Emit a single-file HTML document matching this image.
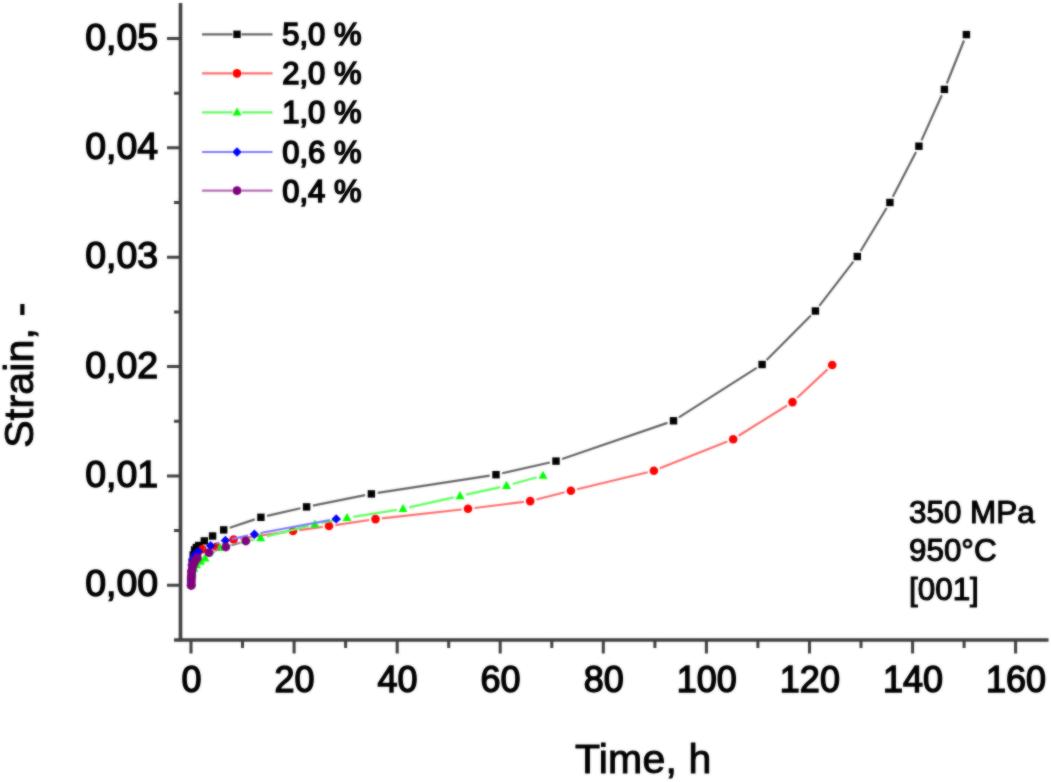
<!DOCTYPE html>
<html><head><meta charset="utf-8"><title>Creep curves</title>
<style>
html,body{margin:0;padding:0;background:#fff}
body{width:1051px;height:782px;position:relative;overflow:hidden;font-family:"Liberation Sans",Arial,sans-serif;color:#000}
.t{position:absolute;white-space:nowrap;line-height:1;-webkit-text-stroke:1.4px #000}
.yt{font-size:37.5px;left:0;width:158.2px;text-align:right}
.xt{font-size:36px;width:120px;text-align:center;top:661.7px}
.lg{font-size:31px;left:282.2px;-webkit-text-stroke:1.6px #000}
.an{font-size:31.4px;left:909px;-webkit-text-stroke:1.1px #000}
.ax{font-size:41px;letter-spacing:0.2px;-webkit-text-stroke:1px #000}
#w{position:absolute;left:0;top:0;width:1051px;height:782px;filter:url(#bl)}
</style></head><body><svg width="0" height="0" style="position:absolute"><defs><filter id="bl" x="0" y="0" width="100%" height="100%" color-interpolation-filters="sRGB"><feGaussianBlur in="SourceGraphic" stdDeviation="0.8" result="b"/><feComposite in="SourceGraphic" in2="b" operator="arithmetic" k1="0" k2="0.45" k3="0.55" k4="0"/></filter></defs></svg><div id="w">

<svg width="1051" height="782" viewBox="0 0 1051 782" style="position:absolute;left:0;top:0">
<g stroke="#404040" stroke-width="3.6" fill="none">
<path d="M180.5 3V641.2"/>
<path d="M174 640.0H1048.5"/>
<path d="M180.5 585.2H167M180.5 475.9H167M180.5 366.5H167M180.5 257.2H167M180.5 147.8H167M180.5 38.5H167M180.5 530.5H174M180.5 421.2H174M180.5 311.9H174M180.5 202.5H174M180.5 93.2H174M191.0 640.0V653.5M294.1 640.0V653.5M397.2 640.0V653.5M500.2 640.0V653.5M603.3 640.0V653.5M706.4 640.0V653.5M809.5 640.0V653.5M912.6 640.0V653.5M1015.6 640.0V653.5M242.5 640.0V648.0M345.6 640.0V648.0M448.7 640.0V648.0M551.8 640.0V648.0M654.9 640.0V648.0M757.9 640.0V648.0M861.0 640.0V648.0M964.1 640.0V648.0" stroke-width="3.0"/>
</g>
<path d="M229.8 527.8L254.8 519.4M267.1 515.9L300.4 508.3M312.9 505.6L365.1 495.2M377.7 492.9L489.7 475.7M502.2 473.3L549.8 462.5M562.1 459.0L667.4 422.9M678.9 417.4L756.7 367.9M766.6 360.0L810.9 315.5M819.3 305.9L853.4 261.6M860.6 251.0L886.6 208.0M892.8 196.8L916.0 151.9M921.5 140.4L941.8 95.2M946.8 83.5L964.0 40.5" stroke="#646464" stroke-width="2.2" fill="none"/>
<rect x="187.6" y="580.3" width="7.4" height="7.4" fill="#000"/><rect x="187.9" y="568.3" width="7.4" height="7.4" fill="#000"/><rect x="188.5" y="558.3" width="7.4" height="7.4" fill="#000"/><rect x="189.5" y="551.3" width="7.4" height="7.4" fill="#000"/><rect x="190.9" y="546.3" width="7.4" height="7.4" fill="#000"/><rect x="192.7" y="543.8" width="7.4" height="7.4" fill="#000"/><rect x="195.0" y="541.8" width="7.4" height="7.4" fill="#000"/><rect x="200.6" y="537.2" width="7.4" height="7.4" fill="#000"/><rect x="208.9" y="532.3" width="7.4" height="7.4" fill="#000"/><rect x="220.0" y="526.2" width="7.4" height="7.4" fill="#000"/><rect x="257.2" y="513.6" width="7.4" height="7.4" fill="#000"/><rect x="302.9" y="503.2" width="7.4" height="7.4" fill="#000"/><rect x="367.7" y="490.2" width="7.4" height="7.4" fill="#000"/><rect x="492.3" y="471.0" width="7.4" height="7.4" fill="#000"/><rect x="552.3" y="457.4" width="7.4" height="7.4" fill="#000"/><rect x="669.8" y="417.1" width="7.4" height="7.4" fill="#000"/><rect x="758.4" y="360.8" width="7.4" height="7.4" fill="#000"/><rect x="811.7" y="307.3" width="7.4" height="7.4" fill="#000"/><rect x="853.6" y="252.8" width="7.4" height="7.4" fill="#000"/><rect x="886.2" y="198.8" width="7.4" height="7.4" fill="#000"/><rect x="915.2" y="142.5" width="7.4" height="7.4" fill="#000"/><rect x="940.7" y="85.7" width="7.4" height="7.4" fill="#000"/><rect x="962.7" y="30.9" width="7.4" height="7.4" fill="#000"/>
<path d="M208.6 548.2L210.0 547.9M222.2 544.3L227.7 542.0M239.9 538.6L286.7 531.9M299.3 530.1L322.7 526.9M335.3 525.1L369.2 520.0M381.9 518.4L461.6 509.5M474.4 508.0L523.8 501.9M536.4 499.5L564.7 492.3M577.1 489.2L647.7 472.2M659.8 468.3L727.3 441.6M738.6 435.8L787.1 405.5M797.2 397.7L827.5 369.4" stroke="#ff6c6c" stroke-width="2.2" fill="none"/>
<circle cx="191.2" cy="585.0" r="4.3" fill="#ff0000"/><circle cx="191.4" cy="578.0" r="4.3" fill="#ff0000"/><circle cx="191.8" cy="571.0" r="4.3" fill="#ff0000"/><circle cx="192.5" cy="565.0" r="4.3" fill="#ff0000"/><circle cx="193.5" cy="560.0" r="4.3" fill="#ff0000"/><circle cx="195.0" cy="556.5" r="4.3" fill="#ff0000"/><circle cx="197.5" cy="553.5" r="4.3" fill="#ff0000"/><circle cx="202.3" cy="549.3" r="4.3" fill="#ff0000"/><circle cx="216.3" cy="546.8" r="4.3" fill="#ff0000"/><circle cx="233.6" cy="539.5" r="4.3" fill="#ff0000"/><circle cx="293.0" cy="531.0" r="4.3" fill="#ff0000"/><circle cx="329.0" cy="526.0" r="4.3" fill="#ff0000"/><circle cx="375.5" cy="519.1" r="4.3" fill="#ff0000"/><circle cx="468.0" cy="508.8" r="4.3" fill="#ff0000"/><circle cx="530.2" cy="501.1" r="4.3" fill="#ff0000"/><circle cx="570.9" cy="490.7" r="4.3" fill="#ff0000"/><circle cx="653.9" cy="470.7" r="4.3" fill="#ff0000"/><circle cx="733.2" cy="439.2" r="4.3" fill="#ff0000"/><circle cx="792.5" cy="402.1" r="4.3" fill="#ff0000"/><circle cx="832.2" cy="365.0" r="4.3" fill="#ff0000"/>
<path d="M210.2 554.6L214.8 551.5M226.2 546.3L254.5 539.5M266.9 536.4L308.7 525.9M321.2 523.0L340.7 519.1M353.3 516.8L396.7 509.8M409.2 507.4L453.8 497.4M466.2 494.6L500.3 487.1M512.7 484.0L536.8 477.3" stroke="#5eff5e" stroke-width="2.2" fill="none"/>
<path d="M191.2 580.1L195.7 588.2L186.7 588.2z" fill="#00ff00"/><path d="M191.5 574.1L196.0 582.2L187.0 582.2z" fill="#00ff00"/><path d="M192.2 568.1L196.7 576.2L187.7 576.2z" fill="#00ff00"/><path d="M193.8 563.6L198.3 571.7L189.3 571.7z" fill="#00ff00"/><path d="M196.5 560.1L201.0 568.2L192.0 568.2z" fill="#00ff00"/><path d="M200.5 556.6L205.0 564.7L196.0 564.7z" fill="#00ff00"/><path d="M205.0 553.4L209.5 561.5L200.5 561.5z" fill="#00ff00"/><path d="M220.0 542.9L224.5 551.0L215.5 551.0z" fill="#00ff00"/><path d="M260.7 533.1L265.2 541.2L256.2 541.2z" fill="#00ff00"/><path d="M314.9 519.4L319.4 527.5L310.4 527.5z" fill="#00ff00"/><path d="M347.0 512.9L351.5 521.0L342.5 521.0z" fill="#00ff00"/><path d="M403.0 503.9L407.5 512.0L398.5 512.0z" fill="#00ff00"/><path d="M460.0 491.1L464.5 499.2L455.5 499.2z" fill="#00ff00"/><path d="M506.5 480.8L511.0 488.9L502.0 488.9z" fill="#00ff00"/><path d="M543.0 470.7L547.5 478.8L538.5 478.8z" fill="#00ff00"/>
<path d="M204.3 548.8L204.8 548.5M216.6 543.5L219.4 542.6M231.7 539.1L248.1 535.5M260.7 533.0L329.9 520.1" stroke="#7c7cff" stroke-width="2.2" fill="none"/>
<path d="M191.1 580.3L195.8 585.0L191.1 589.7L186.4 585.0z" fill="#0000ff"/><path d="M191.2 573.3L195.9 578.0L191.2 582.7L186.5 578.0z" fill="#0000ff"/><path d="M191.5 566.3L196.2 571.0L191.5 575.7L186.8 571.0z" fill="#0000ff"/><path d="M192.0 560.3L196.7 565.0L192.0 569.7L187.3 565.0z" fill="#0000ff"/><path d="M192.8 555.3L197.5 560.0L192.8 564.7L188.1 560.0z" fill="#0000ff"/><path d="M194.0 551.8L198.7 556.5L194.0 561.2L189.3 556.5z" fill="#0000ff"/><path d="M196.0 548.8L200.7 553.5L196.0 558.2L191.3 553.5z" fill="#0000ff"/><path d="M198.5 546.9L203.2 551.6L198.5 556.3L193.8 551.6z" fill="#0000ff"/><path d="M210.6 541.0L215.3 545.7L210.6 550.4L205.9 545.7z" fill="#0000ff"/><path d="M225.4 535.7L230.1 540.4L225.4 545.1L220.7 540.4z" fill="#0000ff"/><path d="M254.4 529.5L259.1 534.2L254.4 538.9L249.7 534.2z" fill="#0000ff"/><path d="M336.2 514.2L340.9 518.9L336.2 523.6L331.5 518.9z" fill="#0000ff"/>
<path d="M215.2 550.6L219.7 549.0M231.9 545.2L239.7 542.8" stroke="#b66eb6" stroke-width="2.2" fill="none"/>
<circle cx="191.2" cy="585.5" r="4.4" fill="#800080"/><circle cx="191.2" cy="583.0" r="4.4" fill="#800080"/><circle cx="191.2" cy="580.5" r="4.4" fill="#800080"/><circle cx="191.3" cy="578.0" r="4.4" fill="#800080"/><circle cx="191.4" cy="575.5" r="4.4" fill="#800080"/><circle cx="191.6" cy="573.0" r="4.4" fill="#800080"/><circle cx="191.9" cy="570.5" r="4.4" fill="#800080"/><circle cx="192.3" cy="568.0" r="4.4" fill="#800080"/><circle cx="192.8" cy="566.0" r="4.4" fill="#800080"/><circle cx="193.5" cy="564.0" r="4.4" fill="#800080"/><circle cx="194.3" cy="562.0" r="4.4" fill="#800080"/><circle cx="195.2" cy="560.3" r="4.4" fill="#800080"/><circle cx="196.2" cy="559.0" r="4.4" fill="#800080"/><circle cx="197.4" cy="557.8" r="4.4" fill="#800080"/><circle cx="209.1" cy="552.6" r="4.4" fill="#800080"/><circle cx="225.8" cy="547.0" r="4.4" fill="#800080"/><circle cx="245.8" cy="541.0" r="4.4" fill="#800080"/>
<path d="M202 34.3H232.5M241.5 34.3H272.5" stroke="#646464" stroke-width="2.2"/>
<path d="M202 73.4H232.5M241.5 73.4H272.5" stroke="#ff6c6c" stroke-width="2.2"/>
<path d="M202 112.3H232.5M241.5 112.3H272.5" stroke="#5eff5e" stroke-width="2.2"/>
<path d="M202 152H232.5M241.5 152H272.5" stroke="#7c7cff" stroke-width="2.2"/>
<path d="M202 190.7H232.5M241.5 190.7H272.5" stroke="#b66eb6" stroke-width="2.2"/>
<rect x="233.3" y="30.6" width="7.4" height="7.4" fill="#000"/>
<circle cx="237.0" cy="73.4" r="4.3" fill="#ff0000"/>
<path d="M237.0 107.4L241.5 115.5L232.5 115.5z" fill="#00ff00"/>
<path d="M237.0 147.3L241.7 152.0L237.0 156.7L232.3 152.0z" fill="#0000ff"/>
<circle cx="237.0" cy="190.7" r="4.4" fill="#800080"/>
</svg>
<div class="t yt" style="top:565.3px">0,00</div>
<div class="t yt" style="top:456.0px">0,01</div>
<div class="t yt" style="top:346.6px">0,02</div>
<div class="t yt" style="top:237.3px">0,03</div>
<div class="t yt" style="top:127.9px">0,04</div>
<div class="t yt" style="top:18.6px">0,05</div>
<div class="t xt" style="left:131.4px">0</div>
<div class="t xt" style="left:234.5px">20</div>
<div class="t xt" style="left:337.6px">40</div>
<div class="t xt" style="left:440.6px">60</div>
<div class="t xt" style="left:543.7px">80</div>
<div class="t xt" style="left:646.8px">100</div>
<div class="t xt" style="left:749.9px">120</div>
<div class="t xt" style="left:853.0px">140</div>
<div class="t xt" style="left:956.0px">160</div>
<div class="t lg" style="top:19.2px">5,0 %</div>
<div class="t lg" style="top:58.3px">2,0 %</div>
<div class="t lg" style="top:97.2px">1,0 %</div>
<div class="t lg" style="top:136.9px">0,6 %</div>
<div class="t lg" style="top:175.6px">0,4 %</div>
<div class="t an" style="top:496.7px">350 MPa</div>
<div class="t an" style="top:535.0px">950°C</div>
<div class="t an" style="top:573.5px">[001]</div>
<div class="t ax" style="left:575px;top:739px">Time, h</div>
<div class="t ax" style="left:0;top:0;transform-origin:0 0;transform:translate(-1.5px,447.7px) rotate(-90deg)">Strain, -</div>
</div></body></html>
